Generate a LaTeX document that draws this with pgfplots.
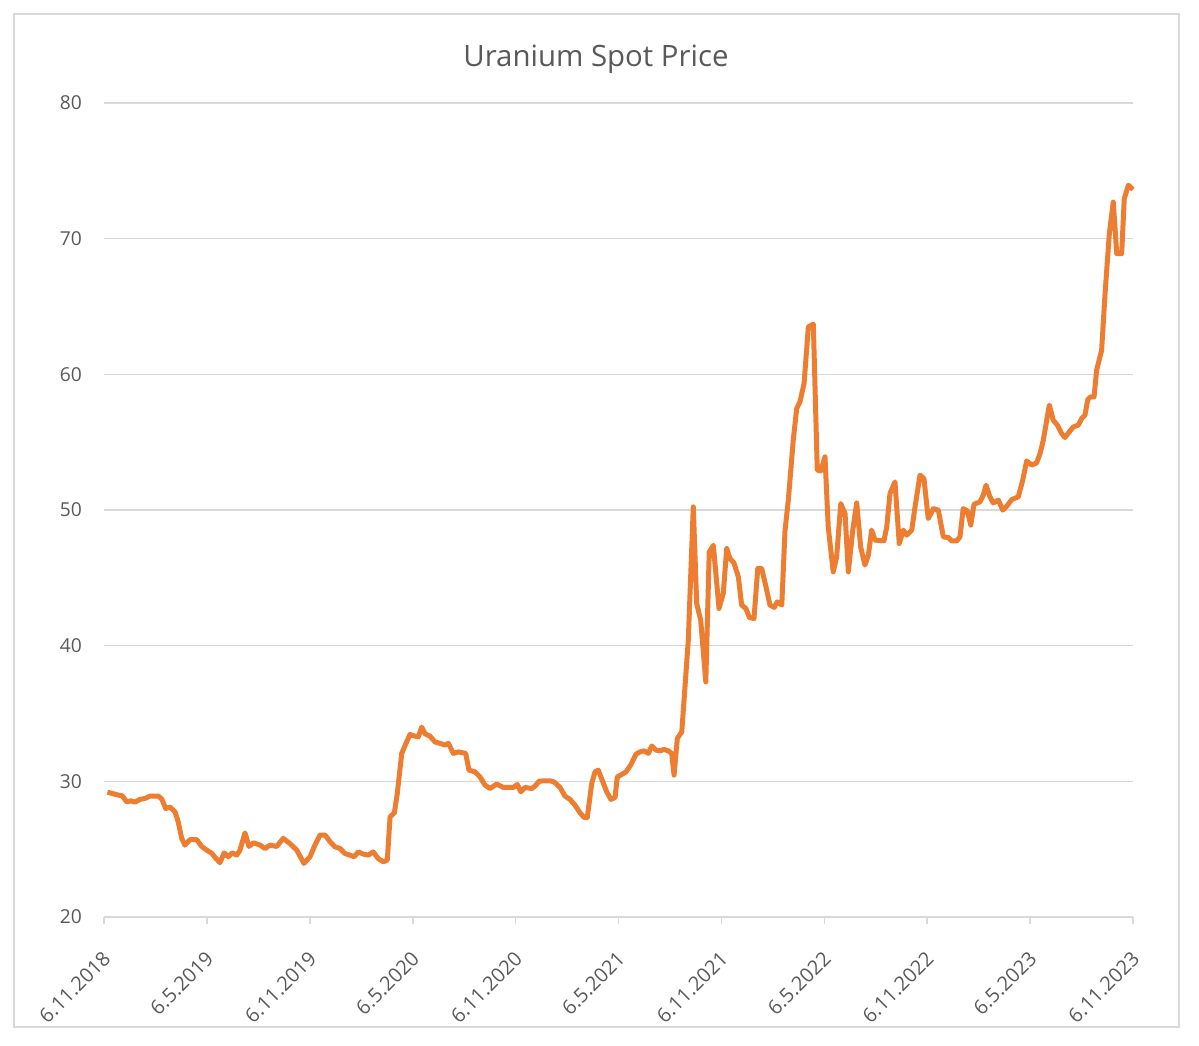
\documentclass[border=0pt]{standalone}
\usepackage{pgfplots}
\pgfplotsset{compat=1.18}
\usepackage{fontspec}
\setmainfont{Open Sans}
\definecolor{ora}{HTML}{ED7D31}
\definecolor{txt}{HTML}{595959}
\definecolor{grd}{HTML}{D9D9D9}
\begin{document}
\begin{tikzpicture}
\path[use as bounding box] (0,0) rectangle (599.5pt,522.5pt);
\draw[grd, line width=0.6pt] (7pt,9pt) rectangle (589.5pt,515.5pt);
\begin{axis}[
  at={(52pt,64pt)}, anchor=south west, scale only axis,
  width=514.5pt, height=407pt,
  xmin=0, xmax=60, ymin=20, ymax=80,
  ytick={20,30,...,80},
  xtick={0,6,...,60},
  xticklabels={6.11.2018,6.5.2019,6.11.2019,6.5.2020,6.11.2020,6.5.2021,6.11.2021,6.5.2022,6.11.2022,6.5.2023,6.11.2023},
  axis x line*=bottom, axis y line*=left,
  x axis line style={draw=grd, line width=0.8pt, -},
  y axis line style={draw=none},
  ymajorgrids, grid style={draw=grd, line width=0.6pt},
  xtick style={draw=grd, line width=0.8pt},
  ytick style={draw=none},
  tick align=outside, major tick length=3.5pt,
  /pgf/number format/assume math mode=true,
  ticklabel style={font=\fontsize{9.6}{11}\selectfont, text=txt},
  yticklabel style={xshift=-4pt},
  xticklabel style={font=\fontsize{10}{12}\selectfont, rotate=45, anchor=east, yshift=-12pt, xshift=-6.5pt},
  clip=false,
]
\addplot[ora, line width=2.5pt, line join=round] coordinates {
(0.2,29.2)(0.83,28.99)(1.07,28.93)(1.32,28.49)(1.57,28.56)(1.81,28.47)(2.10,28.67)(2.39,28.74)(2.68,28.91)(3.17,28.91)(3.36,28.71)(3.60,28.0)(3.85,28.1)(4.14,27.75)(4.33,27.0)(4.53,25.8)(4.72,25.3)(5.01,25.7)(5.41,25.7)(5.70,25.2)(5.99,24.93)(6.28,24.7)(6.47,24.4)(6.76,24.0)(7.01,24.73)(7.25,24.44)(7.48,24.73)(7.74,24.56)(7.93,24.93)(8.22,26.2)(8.45,25.2)(8.71,25.47)(9.10,25.3)(9.39,25.05)(9.68,25.3)(10.07,25.2)(10.45,25.8)(10.85,25.4)(11.24,24.93)(11.66,23.95)(12.01,24.44)(12.30,25.3)(12.59,26.04)(12.89,26.04)(13.18,25.55)(13.47,25.17)(13.76,25.05)(14.05,24.68)(14.34,24.56)(14.59,24.44)(14.83,24.8)(15.12,24.64)(15.41,24.56)(15.70,24.8)(15.99,24.3)(16.29,24.07)(16.52,24.2)(16.68,27.38)(16.93,27.68)(17.10,29.1)(17.36,32.06)(17.61,32.8)(17.84,33.45)(18.13,33.33)(18.33,33.28)(18.52,34.0)(18.72,33.5)(19.01,33.33)(19.30,32.9)(19.59,32.8)(19.88,32.67)(20.08,32.8)(20.37,32.06)(20.66,32.17)(21.09,32.06)(21.28,30.83)(21.63,30.7)(21.92,30.33)(22.22,29.72)(22.51,29.47)(22.90,29.8)(23.28,29.55)(23.87,29.55)(24.10,29.77)(24.30,29.23)(24.55,29.55)(24.94,29.47)(25.13,29.65)(25.38,30.02)(26.01,30.04)(26.24,29.96)(26.59,29.55)(26.88,28.91)(27.17,28.67)(27.46,28.25)(27.76,27.68)(27.99,27.34)(28.18,27.34)(28.44,29.84)(28.63,30.7)(28.82,30.83)(29.11,29.89)(29.31,29.23)(29.56,28.67)(29.80,28.81)(29.93,30.33)(30.13,30.46)(30.44,30.7)(30.71,31.2)(31.02,32.0)(31.25,32.17)(31.49,32.25)(31.74,32.06)(31.94,32.6)(32.19,32.3)(32.42,32.25)(32.65,32.35)(32.90,32.25)(33.10,32.06)(33.24,30.46)(33.43,33.16)(33.69,33.65)(34.07,40.4)(34.36,50.23)(34.56,43.1)(34.79,41.9)(35.09,37.33)(35.29,46.9)(35.53,47.4)(35.86,42.74)(36.11,43.85)(36.31,47.16)(36.50,46.43)(36.73,46.1)(36.99,45.07)(37.18,42.99)(37.43,42.74)(37.63,42.08)(37.90,42.0)(38.12,45.69)(38.35,45.69)(38.60,44.33)(38.83,42.99)(39.08,42.82)(39.26,43.23)(39.52,42.99)(39.71,48.5)(39.90,50.7)(40.19,55.15)(40.39,57.48)(40.58,57.97)(40.82,59.32)(41.07,63.5)(41.36,63.7)(41.59,52.94)(41.79,52.88)(42.04,53.92)(42.23,48.75)(42.52,45.44)(42.72,46.55)(42.96,50.47)(43.21,49.74)(43.40,45.44)(43.66,48.52)(43.89,50.52)(44.12,47.28)(44.37,45.94)(44.57,46.67)(44.76,48.52)(44.96,47.78)(45.48,47.73)(45.64,48.75)(45.83,51.22)(46.12,52.07)(46.37,47.53)(46.61,48.52)(46.80,48.15)(47.10,48.52)(47.29,50.23)(47.58,52.57)(47.81,52.32)(48.06,49.37)(48.36,50.1)(48.65,49.99)(48.94,48.02)(49.23,47.97)(49.43,47.72)(49.72,47.72)(49.91,48.02)(50.10,50.1)(50.34,49.94)(50.54,48.89)(50.73,50.43)(51.08,50.6)(51.27,51.1)(51.43,51.83)(51.66,50.97)(51.85,50.52)(52.15,50.73)(52.40,49.99)(52.64,50.28)(52.93,50.77)(53.31,50.97)(53.57,52.2)(53.80,53.62)(54.09,53.31)(54.38,53.47)(54.58,54.16)(54.77,55.15)(55.12,57.73)(55.35,56.62)(55.59,56.26)(55.84,55.64)(56.03,55.34)(56.33,55.83)(56.52,56.12)(56.81,56.26)(57.01,56.75)(57.20,56.99)(57.36,58.14)(57.53,58.34)(57.73,58.34)(57.88,60.31)(58.17,61.78)(58.37,65.96)(58.62,70.37)(58.85,72.7)(59.05,68.9)(59.34,68.9)(59.49,72.95)(59.73,73.94)(60.0,73.62)
};
\end{axis}
\node[text=txt, font=\fontsize{14.7}{18}\selectfont] at (298pt,493pt) {Uranium Spot Price};
\end{tikzpicture}
\end{document}
